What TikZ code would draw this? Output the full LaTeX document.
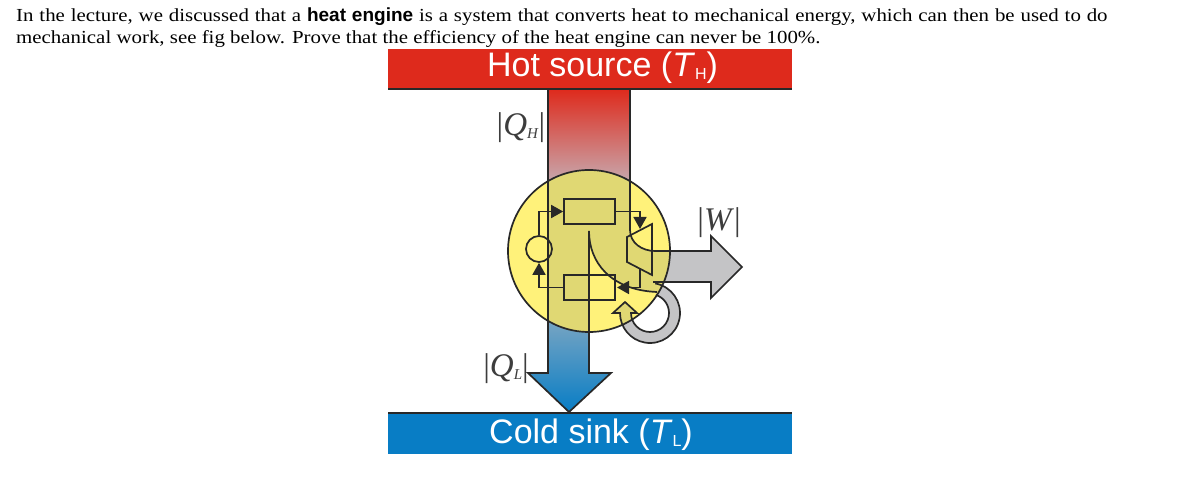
\documentclass[tikz,border=0pt]{standalone}
\usepackage{fontspec}
\setmainfont[FakeStretch=1.135]{Liberation Serif}
\setsansfont{Liberation Sans}
\newfontfamily\labelfont{Liberation Serif}
\usetikzlibrary{arrows.meta}
\definecolor{hotred}{RGB}{222,42,28}
\definecolor{coldblue}{RGB}{8,125,197}
\definecolor{fadered}{RGB}{200,165,170}
\definecolor{fadeblue}{RGB}{120,165,195}
\definecolor{flowgray}{RGB}{196,196,198}
\definecolor{engyellow}{RGB}{255,242,122}
\definecolor{engdark}{RGB}{224,216,115}
\definecolor{ink}{RGB}{40,40,40}
\tikzset{
  para/.style={anchor=base west,inner sep=0pt,font=\fontsize{18.4}{20}\selectfont,text=black},
  barlabel/.style={inner sep=0pt,anchor=base,text=white,font=\sffamily\fontsize{34}{36}\selectfont},
  qty/.style={inner sep=0pt,anchor=base,text=ink!90,font=\labelfont\fontsize{33}{36}\selectfont},
  part/.style={draw=ink,line width=1.7pt,minimum width=51pt,minimum height=25pt,inner sep=0pt},
  pumpnode/.style={draw=ink,line width=1.7pt,circle,minimum size=26pt,inner sep=0pt},
  edge/.style={draw=ink,line width=1.7pt},
  flowto/.style={edge,-{Triangle[length=12pt,width=13pt]}},
  barline/.style={draw=ink,line width=1.2pt}
}
\newcommand{\ringpath}{(650,313) ++(-80:30) arc[start angle=-80,end angle=180,radius=30] -- (613,313) -- (625,302) -- (637,313) -- (631,313) arc[start angle=180,end angle=-72,radius=19]}
\newcommand{\wpath}{(655,251) -- (711,251) -- (711,236) -- (742,267) -- (711,298) -- (711,282) -- (653,282)}
\begin{document}
\begin{tikzpicture}[x=1pt,y=-1pt]
\useasboundingbox (0,0) rectangle (1188,486);
\fill[white] (0,0) rectangle (1188,486);
% text
\node[para] (line1) at (16,22) {\spaceskip=5.85pt In the lecture, we discussed that a {\sffamily\bfseries\fontsize{19}{20}\selectfont heat engine} is a system that converts heat to mechanical energy, which can then be used to do};
\node[para] (line2) at (16,44) {mechanical work, see fig below. Prove that the efficiency of the heat engine can never be 100\%.};
% flows
\shade[top color=hotred,bottom color=fadered] (548,89) rectangle (630,180);
\fill[fadered] (548,180) rectangle (630,240);
\shade[top color=fadeblue,bottom color=coldblue] (548,320) -- (589,320) -- (589,373) -- (611,373) -- (569,412) -- (528,373) -- (548,373) -- cycle;
\fill[flowgray] \wpath -- cycle;
\fill[flowgray] \ringpath -- cycle;
% engine disc
\fill[engyellow] (589,251) circle[radius=81];
\begin{scope}
\clip (589,251) circle[radius=81];
\fill[engdark] (548,160) -- (630,160) -- (630,230) .. controls (630,243) and (642,251) .. (655,251) -- (711,251) -- (711,282) -- (657,292) .. controls (610,290) and (589,262) .. (589,231) -- (589,340) -- (548,340) -- cycle;
\fill[engdark] \ringpath -- cycle;
\end{scope}
% bars
\fill[hotred] (388,49) rectangle (792,89);
\fill[coldblue] (388,413) rectangle (792,454);
\draw[barline] (388,89) -- (792,89);
\draw[barline] (388,413) -- (792,413);
% outlines of flows
\draw[edge] (548,89) -- (548,373) -- (528,373) -- (569,412) -- (611,373) -- (589,373) -- (589,231) .. controls (589,262) and (610,290) .. (657,292);
\draw[edge] (630,89) -- (630,230) .. controls (630,243) and (642,251) .. (655,251);
\draw[edge] \wpath;
\draw[edge] \ringpath;
\draw[edge] (589,251) circle[radius=81];
% engine parts
\node[part] (upper) at (589.5,211.5) {};
\node[part] (lower) at (589.5,287.5) {};
\node[pumpnode] (pump) at (539,249) {};
\draw[edge] (627,237) coordinate (tl) -- (652,224) coordinate (tr) -- (652,275) coordinate (br) -- (627,262) coordinate (bl) -- cycle;
\coordinate (turbin) at (640,229);
\coordinate (turbout) at (640,269);
\coordinate (lowin) at (617,287.5);
\draw[flowto] (lower.west) -| (pump.south);
\draw[flowto] (pump.north) |- (upper.west);
\draw[flowto] (upper.east) -| (turbin);
\draw[flowto] (turbout) |- (lowin);
% labels
\node[barlabel] (hot) at (602.5,77) {Hot source (\textit{T}\raisebox{-3pt}{\fontsize{16}{16}\selectfont H})};
\node[barlabel] (cold) at (591,443) {Cold sink (\textit{T}\raisebox{-3pt}{\fontsize{16}{16}\selectfont L})};
\node[qty] (qh) at (521,136) {|\textit{Q}\raisebox{-3pt}{\fontsize{15}{15}\selectfont\textit{H}}|};
\node[qty] (ql) at (506,376) {|\textit{Q}\raisebox{-3pt}{\fontsize{15}{15}\selectfont\textit{L}}|};
\node[qty] (w) at (719,231) {|\textit{W}|};
\end{tikzpicture}
\end{document}
